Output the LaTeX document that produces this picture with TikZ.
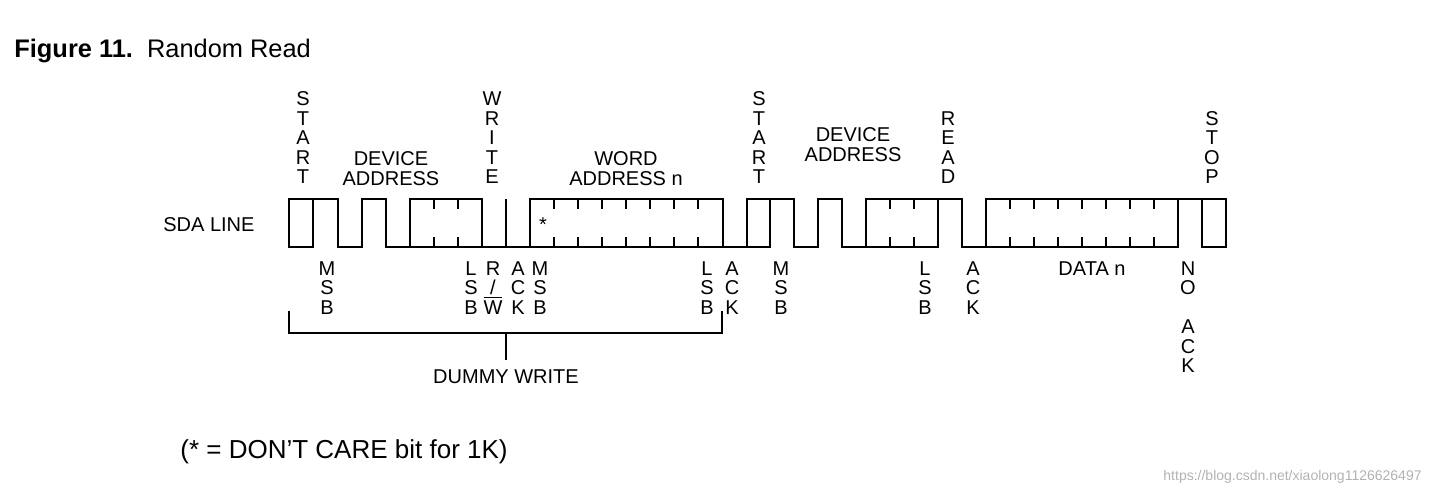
\documentclass[tikz,border=0pt]{standalone}
\usepackage{fontspec}
\setmainfont{Liberation Sans}
\begin{document}
\begin{tikzpicture}[x=0.5pt,y=-0.5pt]

\tikzset{lbl/.style = {font=\fontsize{10}{9.75}\selectfont,align=center,inner sep=0pt}}
\tikzset{top/.style = {lbl,anchor=south}}
\tikzset{bot/.style = {lbl,anchor=north}}
\tikzset{wave/.style = {line width=1.4pt,line join=miter}}
\useasboundingbox (0,0) rectangle (1431,496);
% title and line name
\node[anchor=base west,inner sep=0pt,font=\fontsize{12.7}{14}\selectfont] (title) at (14,58) {\textbf{Figure 11.}\ \ Random Read};
\node[lbl,anchor=west] (sda) at (163,225) {SDA LINE};
% labels above
\node[top] (start1) at (303,184) {S\\T\\A\\R\\T};
\node[top] (dev1) at (391,186) {DEVICE\\ADDRESS};
\node[top] (write) at (492,184) {W\\R\\I\\T\\E};
\node[top] (word) at (626,186) {WORD\\ADDRESS n};
\node[top] (start2) at (759,184) {S\\T\\A\\R\\T};
\node[top] (dev2) at (853,162) {DEVICE\\ADDRESS};
\node[top] (read) at (948,184) {R\\E\\A\\D};
\node[top] (stop) at (1212,184) {S\\T\\O\\P};
% labels below
\node[bot] (msb1) at (327,261) {M\\S\\B};
\node[bot] (lsb1) at (471,261) {L\\S\\B};
\node[bot] (rw) at (493,261) {R\\/\\$\overline{\mbox{W}}$};
\node[bot] (ack1) at (518,261) {A\\C\\K};
\node[bot] (msb2) at (540,261) {M\\S\\B};
\node[bot] (lsb2) at (707,261) {L\\S\\B};
\node[bot] (ack2) at (732,261) {A\\C\\K};
\node[bot] (msb3) at (781,261) {M\\S\\B};
\node[bot] (lsb3) at (925,261) {L\\S\\B};
\node[bot] (ack3) at (973,261) {A\\C\\K};
\node[bot] (data) at (1092,261) {DATA n};
\node[bot] (noack) at (1188,261) {N\\O\\ \\A\\C\\K};
\node[lbl] (star) at (543,225) {*};
% waveform
\draw[wave] (289,199) rectangle (313,247);
\draw[wave] (313,247) -- (313,199) -- (338,199) -- (338,247) -- (362,247) -- (362,199)
  -- (386,199) -- (386,247) -- (410,247);
\draw[wave] (410,199) rectangle (482,247);
\draw[wave] (482,247) -- (530,247) (506,247) -- (506,199);
\draw[wave] (530,199) rectangle (723,247);
\draw[wave] (723,247) -- (747,247);
\draw[wave] (747,199) rectangle (770,247);
\draw[wave] (770,247) -- (770,199) -- (794,199) -- (794,247) -- (818,247) -- (818,199)
  -- (842,199) -- (842,247) -- (866,247);
\draw[wave] (866,199) rectangle (938,247);
\draw[wave] (938,199) -- (962,199) -- (962,247) -- (986,247);
\draw[wave] (986,199) rectangle (1178,247);
\draw[wave] (1178,199) -- (1202,199);
\draw[wave] (1202,199) rectangle (1226,247);
\foreach \x in {434,458,890,914} {
  \draw[wave] (\x,199) -- ++(0,10) (\x,247) -- ++(0,-10);
}
\foreach \x in {554,578,...,698} {
  \draw[wave] (\x,199) -- ++(0,10) (\x,247) -- ++(0,-10);
}
\foreach \x in {1010,1034,...,1154} {
  \draw[wave] (\x,199) -- ++(0,10) (\x,247) -- ++(0,-10);
}
% bracket
\coordinate (bl) at (289,311);
\coordinate (br) at (722,311);
\coordinate (bm) at (506,333);
\coordinate (be) at (506,360);
\node[lbl,anchor=north] (dummy) at (506,369) {DUMMY WRITE};
\draw[wave] (bl) |- (br |- bm) -- (br);
\draw[wave] (bm) -- (be);
% footnote
\node[lbl,anchor=west,font=\fontsize{13}{15}\selectfont] (note) at (180,452) {(* = DON'T CARE bit for 1K)};
\node[lbl,anchor=east,font=\fontsize{7}{8}\selectfont,text=gray!60] (wm) at (1422,477) {https://blog.csdn.net/xiaolong1126626497};
\end{tikzpicture}
\end{document}
